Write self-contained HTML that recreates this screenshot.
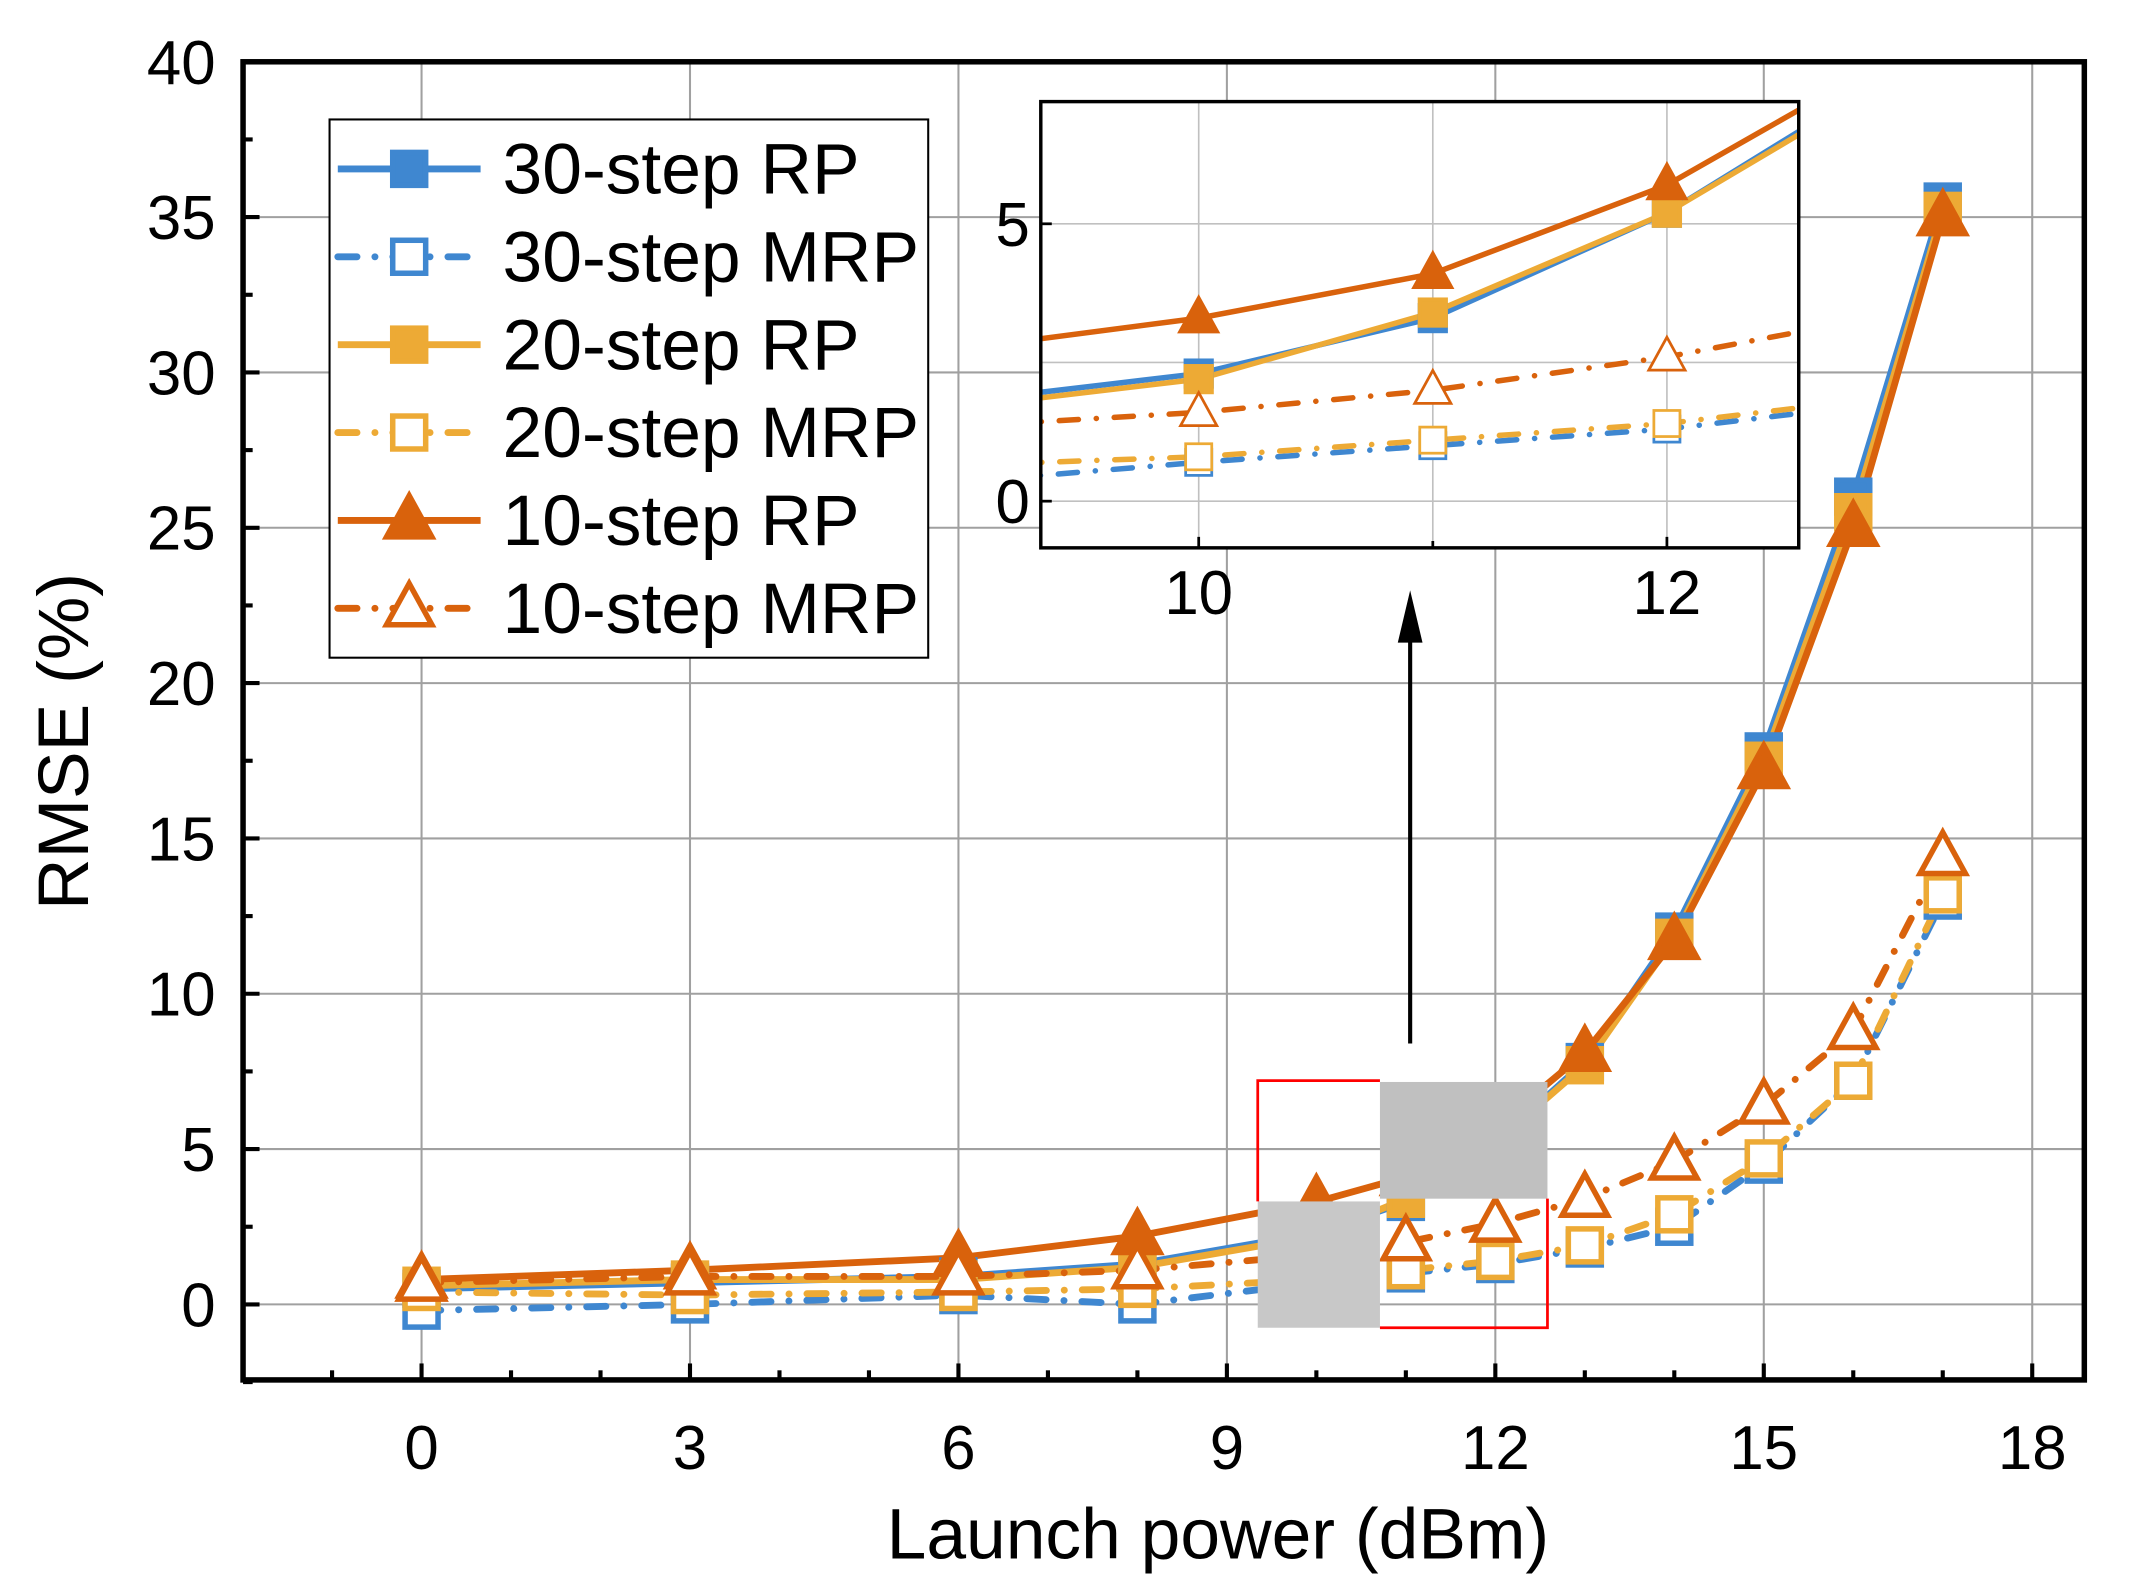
<!DOCTYPE html>
<html><head><meta charset="utf-8">
<style>html,body{margin:0;padding:0;background:#fff}svg{display:block}</style></head>
<body>
<svg id="s" width="2153" height="1590" viewBox="0 0 1568 1158" xmlns="http://www.w3.org/2000/svg" font-family="Liberation Sans, Arial, sans-serif">
<defs>
<clipPath id="cm"><rect x="177" y="45" width="1341" height="960"/></clipPath>
<clipPath id="ci"><rect x="758" y="74" width="552" height="325"/></clipPath>
</defs>
<g id="g"></g>
</svg>
<script>
const NS="http://www.w3.org/2000/svg";
const g=document.getElementById('g');
function el(t,a,p){const e=document.createElementNS(NS,t);for(const k in a)e.setAttribute(k,a[k]);(p||g).appendChild(e);return e;}
function txt(x,y,s,sz,anchor,extra){const e=el('text',Object.assign({x:x,y:y,'font-size':sz,'text-anchor':anchor||'middle',fill:'#000'},extra||{}));e.textContent=s;return e;}
const B='#3f87d0',Y='#edaa35',O='#d9620c';
const DASH='14,13,0.1,13';
const xs=[0,3,6,8,10,11,12,13,14,15,16,17];
const series=[
 {c:B,d:0,m:'s',f:1,v:[0.5,0.7,0.9,1.3,2.3,3.3,5.2,7.8,12,17.8,26,35.5]},
 {c:B,d:1,m:'s',f:0,v:[-0.2,0,0.3,0,0.7,1.0,1.3,1.8,2.5,4.5,7.2,13]},
 {c:Y,d:0,m:'s',f:1,v:[0.6,0.8,0.8,1.2,2.2,3.4,5.2,7.7,11.8,17.5,25.5,35.2]},
 {c:Y,d:1,m:'s',f:0,v:[0.4,0.3,0.4,0.5,0.8,1.1,1.4,1.9,2.9,4.7,7.2,13.2]},
 {c:O,d:0,m:'t',f:1,v:[0.8,1.1,1.5,2.2,3.3,4.1,5.7,8.1,11.7,17.2,25,35]},
 {c:O,d:1,m:'t',f:0,v:[0.7,0.9,0.9,1.1,1.6,2.0,2.6,3.4,4.6,6.4,8.8,14.4]}];
function marker(x,y,s,par,m,c,f,sw){
 if(m==='s') el('rect',{x:x-s/2,y:y-s/2,width:s,height:s,fill:f?c:'#fff',stroke:c,'stroke-width':sw},par);
 else el('polygon',{points:`${x},${y-s*0.6} ${x-s*0.55},${y+s*0.4} ${x+s*0.55},${y+s*0.4}`,fill:f?c:'#fff',stroke:c,'stroke-width':sw,'stroke-linejoin':'miter'},par);
}
function lineAttrs(s,w){const a={fill:'none',stroke:s.c,'stroke-width':w};if(s.d){a['stroke-dasharray']=DASH;a['stroke-linecap']='round';}return a;}
const X=v=>307+v*65.17, Yv=v=>950-v*22.625;
for(let v=0;v<=18;v+=3) el('line',{x1:X(v),y1:45,x2:X(v),y2:1005,stroke:'#a0a0a0','stroke-width':1.5});
for(let v=0;v<=40;v+=5) el('line',{x1:177,y1:Yv(v),x2:1518,y2:Yv(v),stroke:'#a0a0a0','stroke-width':1.5});
const mg=el('g',{'clip-path':'url(#cm)'});
series.forEach(s=>{
 el('polyline',Object.assign({points:xs.map((x,i)=>X(x)+','+Yv(s.v[i])).join(' ')},lineAttrs(s,5)),mg);
});
series.forEach(s=>{xs.forEach((x,i)=>marker(X(x),Yv(s.v[i]),s.m==='s'?24:30,mg,s.m,s.c,s.f,4));});
el('rect',{x:1005,y:788,width:122,height:85,fill:'#c0c0c0'});
el('rect',{x:916,y:875,width:89,height:92,fill:'#c8c8c8'});
el('polyline',{points:'916,875 916,787 1005,787',fill:'none',stroke:'#ff0000','stroke-width':2});
el('polyline',{points:'1005,967 1127,967 1127,873',fill:'none',stroke:'#ff0000','stroke-width':2});
el('line',{x1:1027,y1:760,x2:1027,y2:460,stroke:'#000','stroke-width':3});
el('polygon',{points:'1027,430 1018,468 1036,468',fill:'#000'});
el('rect',{x:177,y:45,width:1341,height:960,fill:'none',stroke:'#000','stroke-width':4});
for(let v=-1;v<=18;v++){const maj=v%3===0;el('line',{x1:X(v),y1:1005,x2:X(v),y2:1005-(maj?12:7),stroke:'#000','stroke-width':3});}
for(let v=-2.5;v<=40;v+=2.5){const maj=v%5===0;el('line',{x1:177,y1:Yv(v),x2:177+(maj?12:7),y2:Yv(v),stroke:'#000','stroke-width':3});}
for(let v=0;v<=18;v+=3) txt(X(v),1070,String(v),45);
for(let v=0;v<=40;v+=5) txt(157,Yv(v)+16,String(v),45,'end');
txt(887,1135,'Launch power (dBm)',52);
txt(64,540,'RMSE (%)',52,'middle',{transform:'rotate(-90 64 540)'});
el('rect',{x:240,y:87,width:436,height:392,fill:'#fff',stroke:'#000','stroke-width':1.5});
const names=['30-step RP','30-step MRP','20-step RP','20-step MRP','10-step RP','10-step MRP'];
series.forEach((s,i)=>{const y=123+i*64;
 el('line',Object.assign({x1:246,y1:y,x2:350,y2:y},lineAttrs(s,5)));
 marker(298,y,s.m==='s'?24:30,g,s.m,s.c,s.f,4);
 txt(366,y+18,names[i],52,'start');});
el('rect',{x:758,y:74,width:552,height:325,fill:'#fff'});
const IX=v=>873+(v-10)*170.5, IY=v=>365-v*40.4;
[10,11,12].forEach(v=>el('line',{x1:IX(v),y1:74,x2:IX(v),y2:399,stroke:'#c0c0c0','stroke-width':1.2}));
[0,2.5,5].forEach(v=>el('line',{x1:758,y1:IY(v),x2:1310,y2:IY(v),stroke:'#c0c0c0','stroke-width':1.2}));
const ig=el('g',{'clip-path':'url(#ci)'});
series.forEach(s=>el('polyline',Object.assign({points:xs.map((x,i)=>IX(x)+','+IY(s.v[i])).join(' ')},lineAttrs(s,4)),ig));
series.forEach(s=>{xs.forEach((x,i)=>marker(IX(x),IY(s.v[i]),s.m==='s'?19:24,ig,s.m,s.c,s.f,s.f?3:2));});
el('rect',{x:758,y:74,width:552,height:325,fill:'none',stroke:'#000','stroke-width':2.5});
[10,12].forEach(v=>{el('line',{x1:IX(v),y1:399,x2:IX(v),y2:391,stroke:'#000','stroke-width':2});txt(IX(v),447,String(v),45);});
[11].forEach(v=>el('line',{x1:IX(v),y1:399,x2:IX(v),y2:394,stroke:'#000','stroke-width':2}));
[0,5].forEach(v=>{el('line',{x1:758,y1:IY(v),x2:766,y2:IY(v),stroke:'#000','stroke-width':2});txt(750,IY(v)+16,String(v),45,'end');});
</script>
</body></html>
